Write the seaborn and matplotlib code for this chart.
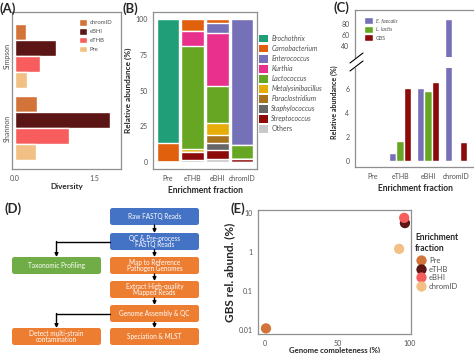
import numpy as np
import pandas as pd
import matplotlib
matplotlib.use("Agg")
import matplotlib.pyplot as plt
import seaborn as sns
from matplotlib.patches import FancyBboxPatch, Patch
from matplotlib.lines import Line2D

# ---------------- data ----------------
# (A) diversity
div_metrics = ["Simpson", "Shannon"]
div_fractions = ["chromID", "eBHI", "eTHB", "Pre"]
div_simpson = [0.21, 0.78, 0.46, 0.23]
div_shannon = [0.41, 1.79, 1.02, 0.40]
div_colors = ["#d2733a", "#5b1515", "#f75d5d", "#f2c084"]

# (B) relative abundance per genus
fractions = ["Pre", "eTHB", "eBHI", "chromID"]
genera = ["Brochothrix", "Carnobacterium", "Enterococcus", "Kurthia", "Lactococcus",
          "Metalysinibacillus", "Paraclostridium", "Staphylococcus", "Streptococcus", "Others"]
genus_colors = ["#1f9e78", "#e0600e", "#7570b8", "#e8308c", "#67a622",
                "#e6ad08", "#a6741e", "#666666", "#8c0a0a", "#c8c8c8"]
abund_pre = [87, 13, 0, 0, 0, 0, 0, 0, 0, 0]
abund_ethb = [0, 8, 0, 11, 72, 2, 0, 0, 6, 1]
abund_ebhi = [0, 3, 6.5, 37.5, 26, 8, 6, 5, 6, 2]
abund_chromid = [0, 0, 88, 0, 10, 0, 0, 0, 2, 0]

# (C) species relative abundance
species = ["E. faecalis", "L. lactis", "GBS"]
species_colors = ["#7570b8", "#67a622", "#8c0a0a"]
efaecalis = [0, 0.65, 6.05, 88]
llactis = [0, 1.7, 5.8, 0.08]
gbs = [0, 6.1, 6.6, 1.6]

# (D) workflow
flow_main = ["Raw FASTQ Reads", "QC & Pre-process\nFASTQ Reads",
             "Map to Reference\nPathogen Genomes", "Extract High-quality\nMapped Reads",
             "Genome Assembly & QC", "Speciation & MLST"]
flow_main_colors = ["#4472c4", "#4472c4", "#ed7d31", "#ed7d31", "#ed7d31", "#ed7d31"]
flow_side = ["Taxonomic Profiling", "Detect multi-strain\ncontamination"]
flow_side_colors = ["#70ad47", "#ed7d31"]
flow_side_from = [1, 4]

# (E) GBS completeness
e_fractions = ["Pre", "eTHB", "eBHI", "chromID"]
e_colors = ["#d2733a", "#5b1515", "#f75d5d", "#f2c084"]
completeness = [0.7, 96.5, 96, 92.5]
gbs_abund = [0.011, 5.5, 7.5, 1.2]

# ---------------- style ----------------
sns.set_style("white")
plt.rcParams["font.family"] = ["Lato", "DejaVu Sans"]
TICK = "#505050"
SPINE = "#8f8f8f"
W, H = 474, 353
fig = plt.figure(figsize=(W / 100, H / 100), dpi=100)
renderer = fig.canvas.get_renderer()


def fit(txt, target_px, **kw):
    t = fig.text(0, 0, txt, fontsize=10, **kw)
    w = t.get_window_extent(renderer).width
    t.remove()
    return 10 * target_px / w


FS_TICK = fit("chromID", 27)
FS_XLAB = fit("Enrichment fraction", 76, fontweight="bold")
FS_YLAB_B = fit("Relative abundance (%)", 86, fontweight="bold")
FS_YLAB_C = fit("Relative abundance (%)", 74, fontweight="bold")
FS_DIV = fit("Diversity", 33, fontweight="bold")
FS_LEGB = fit("Carnobacterium", 46, fontstyle="italic")
FS_LEGC = fit("E. faecalis", 22, fontstyle="italic")
FS_LEGA = fit("chromID", 23)
FS_LEGE = fit("chromID", 29)
FS_LEGE_T = fit("Enrichment", 44, fontweight="bold")
FS_EX = fit("Genome completeness (%)", 91, fontweight="bold")
FS_EY = fit("GBS rel. abund. (%)", 100, fontweight="bold")
FS_PANEL = fit("(B)", 16, fontweight="bold")
FS_FLOW = fit("Genome Assembly & QC", 71)


def box(l, t, r, b):
    return [l / W, 1 - b / H, (r - l) / W, (b - t) / H]


def style(ax):
    for s in ax.spines.values():
        s.set_color(SPINE)
        s.set_linewidth(0.9)
    ax.tick_params(labelsize=FS_TICK, colors=SPINE, labelcolor=TICK, length=2,
                   width=0.7, pad=2)


# ---------------- (A) ----------------
axA = fig.add_axes(box(12, 12, 121, 169))
dfA = pd.DataFrame({
    "metric": np.repeat(div_metrics, len(div_fractions)),
    "fraction": div_fractions * 2,
    "value": div_simpson + div_shannon,
})
sns.barplot(data=dfA, y="metric", x="value", hue="fraction", order=div_metrics,
            hue_order=div_fractions, palette=div_colors, orient="h", width=0.89,
            saturation=1, errorbar=None, ax=axA)
axA.set_xlim(-0.06, 2.0)
axA.set_ylim(1.57, -0.61)
axA.set_xticks([0, 1.5])
axA.set_xticklabels(["0.0", "1.5"])
axA.set_xlabel("Diversity", fontsize=FS_DIV, fontweight="bold", labelpad=1)
axA.set_ylabel("")
axA.set_yticks([0, 1])
axA.set_yticklabels(div_metrics, rotation=90, va="center")
style(axA)
axA.tick_params(axis="y", length=0, pad=1)
axA.legend(loc="upper left", bbox_to_anchor=(79 / W, 1 - 19 / H),
           bbox_transform=fig.transFigure, frameon=False, fontsize=FS_LEGA,
           handlelength=1.3, handleheight=1.3, labelspacing=0.4, handletextpad=0.5,
           borderaxespad=0, borderpad=0, labelcolor=TICK)

# ---------------- (B) ----------------
axB = fig.add_axes(box(153, 12, 257, 169))
tab = np.array([abund_pre, abund_ethb, abund_ebhi, abund_chromid], dtype=float)
for i, (g, c) in enumerate(zip(genera, genus_colors)):
    tops = tab[:, i:].sum(axis=1)
    sns.barplot(x=fractions, y=tops, order=fractions, color=c, width=0.9,
                saturation=1, errorbar=None, ax=axB)
axB.set_xlim(-0.6, 3.6)
axB.set_ylim(-5, 105)
axB.set_yticks([0, 25, 50, 75, 100])
axB.set_ylabel("Relative abundance (%)", fontsize=FS_YLAB_B, fontweight="bold", labelpad=2)
axB.set_xlabel("Enrichment fraction", fontsize=FS_XLAB, fontweight="bold", labelpad=3)
style(axB)
handles = [Patch(facecolor=c, edgecolor="none") for c in genus_colors]
legB = axB.legend(handles, genera, loc="upper left", bbox_to_anchor=(259 / W, 1 - 35 / H),
                  bbox_transform=fig.transFigure, frameon=False, fontsize=FS_LEGB,
                  handlelength=1.3, handleheight=1.3, labelspacing=0.38,
                  handletextpad=0.5, borderaxespad=0, borderpad=0)
for t in legB.get_texts():
    t.set_color(TICK)
    if t.get_text() != "Others":
        t.set_fontstyle("italic")

# ---------------- (C) ----------------
dfC = pd.DataFrame({
    "fraction": fractions * 3,
    "species": np.repeat(species, len(fractions)),
    "value": efaecalis + llactis + gbs,
})
axCt = fig.add_axes(box(355, 10, 476, 57))
axCb = fig.add_axes(box(355, 68, 476, 167))
for ax in (axCt, axCb):
    sns.barplot(data=dfC, x="fraction", y="value", hue="species", order=fractions,
                hue_order=species, palette=species_colors, width=0.8, saturation=1,
                errorbar=None, ax=ax)
    ax.set_xlim(-0.62, 3.72)
    style(ax)
    ax.set_ylabel("")
axCt.set_ylim(20, 105)
axCt.set_yticks([40, 60, 80])
axCt.set_xticks([])
axCt.set_xlabel("")
axCt.spines["bottom"].set_visible(False)
axCb.set_ylim(-0.5, 7.75)
axCb.set_yticks([0, 2, 4, 6])
axCb.spines["top"].set_visible(False)
axCb.get_legend().remove()
axCb.set_xlabel("Enrichment fraction", fontsize=FS_XLAB, fontweight="bold", labelpad=3)
legC = axCt.legend(loc="upper left", bbox_to_anchor=(364 / W, 1 - 17 / H),
                   bbox_transform=fig.transFigure, frameon=False, fontsize=FS_LEGC,
                   handlelength=1.6, handleheight=1.6, labelspacing=0.35,
                   handletextpad=0.6, borderaxespad=0, borderpad=0)
for t in legC.get_texts():
    t.set_color(TICK)
    if t.get_text() != "GBS":
        t.set_fontstyle("italic")
fig.text(334 / W, 1 - 102 / H, "Relative abundance (%)", rotation=90, ha="center",
         va="center", fontsize=FS_YLAB_C, fontweight="bold")

# ---------------- (E) ----------------
axE = fig.add_axes(box(258, 210, 411, 334))
dfE = pd.DataFrame({"fraction": e_fractions, "completeness": completeness, "gbs": gbs_abund})
sns.scatterplot(data=dfE, x="completeness", y="gbs", hue="fraction", hue_order=e_fractions,
                palette=e_colors, s=55, edgecolor="none", ax=axE, clip_on=False)
axE.set_yscale("log")
axE.set_ylim(0.0079, 11.9)
axE.set_xlim(-4.8, 100.7)
axE.set_yticks([0.01, 0.1, 1, 10])
axE.set_yticklabels(["0.01", "0.1", "1", "10"])
axE.minorticks_off()
axE.set_xticks([0, 50, 100])
axE.set_xlabel("Genome completeness (%)", fontsize=FS_EX, fontweight="bold", labelpad=0)
axE.set_ylabel("GBS rel. abund. (%)", fontsize=FS_EY, fontweight="bold", labelpad=2)
style(axE)
legE = axE.legend(loc="upper left", bbox_to_anchor=(413 / W, 1 - 257 / H),
                  bbox_transform=fig.transFigure, frameon=False, fontsize=FS_LEGE,
                  handletextpad=0.1, labelspacing=0.2, borderaxespad=0, borderpad=0,
                  markerscale=1.0)
for t in legE.get_texts():
    t.set_color(TICK)
fig.text(415 / W, 1 - 243 / H, "Enrichment\nfraction", ha="left", va="center",
         fontsize=FS_LEGE_T, fontweight="bold", linespacing=1.25)

# ---------------- overlay: (D), labels, axis break ----------------
ov = fig.add_axes([0, 0, 1, 1], zorder=10)
ov.set_xlim(0, W)
ov.set_ylim(H, 0)
ov.axis("off")
ov.patch.set_alpha(0)

for lab, (x, y) in zip(["(A)", "(B)", "(C)", "(D)", "(E)"],
                       [(0, 9), (123, 9), (334, 8), (5, 209), (231, 209)]):
    ov.text(x, y, lab, fontsize=FS_PANEL, fontweight="bold", ha="left", va="center")

# axis-break marks in (C)
for dy in (0, 8):
    ov.add_line(Line2D([350, 363], [63 + dy, 53 + dy], color="black", lw=0.8))

main_x0, main_x1 = 110, 199
side_x0, side_x1 = 12, 101
tops = [208, 233, 257, 281, 305, 328]
bh = 17
for i, (txt, col) in enumerate(zip(flow_main, flow_main_colors)):
    ov.add_patch(FancyBboxPatch((main_x0, tops[i]), main_x1 - main_x0, bh,
                                boxstyle="round,pad=0,rounding_size=2.5",
                                fc=col, ec="none"))
    ov.text((main_x0 + main_x1) / 2, tops[i] + bh / 2, txt, color="white",
            fontsize=FS_FLOW, ha="center", va="center", linespacing=0.95)
    if i < len(flow_main) - 1:
        ov.annotate("", xy=((main_x0 + main_x1) / 2, tops[i + 1]),
                    xytext=((main_x0 + main_x1) / 2, tops[i] + bh),
                    arrowprops=dict(arrowstyle="-|>", color="black", lw=1.0,
                                    mutation_scale=5, shrinkA=0, shrinkB=0))
for txt, col, src in zip(flow_side, flow_side_colors, flow_side_from):
    ty = tops[src + 1]
    ov.add_patch(FancyBboxPatch((side_x0, ty), side_x1 - side_x0, bh,
                                boxstyle="round,pad=0,rounding_size=2.5",
                                fc=col, ec="none"))
    ov.text((side_x0 + side_x1) / 2, ty + bh / 2, txt, color="white",
            fontsize=FS_FLOW, ha="center", va="center", linespacing=0.95)
    cx = (side_x0 + side_x1) / 2
    sy = tops[src] + bh / 2
    ov.add_line(Line2D([main_x0, cx], [sy, sy], color="black", lw=1.0))
    ov.annotate("", xy=(cx, ty), xytext=(cx, sy),
                arrowprops=dict(arrowstyle="-|>", color="black", lw=1.0,
                                mutation_scale=5, shrinkA=0, shrinkB=0))

fig.savefig("out.png", dpi=100)
